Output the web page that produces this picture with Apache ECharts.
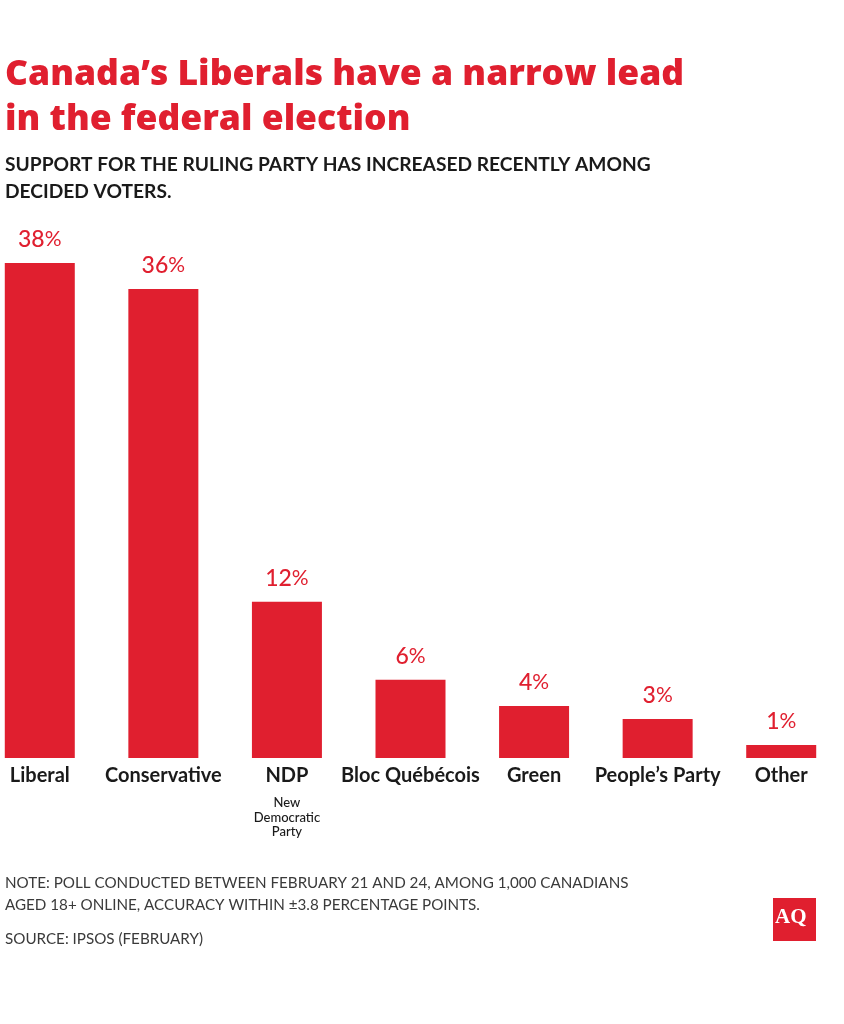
<!DOCTYPE html>
<html>
<head>
<meta charset="utf-8">
<script src="https://cdn.jsdelivr.net/npm/echarts@6/dist/echarts.min.js"></script>
<style>
  html, body { margin: 0; padding: 0; background: #fff; }
  #chart { width: 844px; height: 1024px; }
</style>
</head>
<body>
<div id="chart"></div>
<script>
const parties = ["Liberal", "Conservative", "NDP", "Bloc Québécois", "Green", "People’s Party", "Other"];
const support = [38, 36, 12, 6, 4, 3, 1];
const partyNotes = { NDP: "New\nDemocratic\nParty" };

const RED = "#e01f2f";
const chart = echarts.init(document.getElementById("chart"), null, { renderer: "canvas" });

chart.setOption({
  backgroundColor: "#ffffff",
  animation: false,
  title: [
    {
      text: "Canada’s Liberals have a narrow lead\nin the federal election",
      left: 0,
      top: 47,
      textStyle: {
        color: RED,
        fontFamily: "Open Sans",
        fontWeight: 800,
        fontSize: 35.5,
        lineHeight: 45,
      },
    },
    {
      text: "SUPPORT FOR THE RULING PARTY HAS INCREASED RECENTLY AMONG\nDECIDED VOTERS.",
      left: 0,
      top: 146,
      textStyle: {
        color: "#1a1a1a",
        fontFamily: "Lato",
        fontWeight: 700,
        fontSize: 19.2,
        lineHeight: 27,
      },
    },
    {
      text: "NOTE: POLL CONDUCTED BETWEEN FEBRUARY 21 AND 24, AMONG 1,000 CANADIANS\nAGED 18+ ONLINE, ACCURACY WITHIN ±3.8 PERCENTAGE POINTS.",
      left: 0,
      top: 867,
      textStyle: {
        color: "#3a3a3a",
        fontFamily: "Lato",
        fontWeight: 400,
        fontSize: 15.2,
        lineHeight: 22,
      },
    },
    {
      text: "SOURCE: IPSOS (FEBRUARY)",
      left: 0,
      top: 923,
      textStyle: {
        color: "#3a3a3a",
        fontFamily: "Lato",
        fontWeight: 400,
        fontSize: 15.2,
        lineHeight: 22,
      },
    },
  ],
  graphic: [
    {
      type: "rect",
      left: 773,
      top: 898,
      shape: { width: 43, height: 43 },
      style: { fill: RED },
    },
    {
      type: "text",
      left: 775,
      top: 907,
      style: {
        text: "AQ",
        fill: "#ffffff",
        font: "bold 21px 'Liberation Serif', serif",
      },
    },
  ],
  grid: {
    left: -22,
    width: 865,
    top: 237,
    bottom: 266,
    outerBoundsMode: "none",
    containLabel: false,
  },
  xAxis: {
    type: "category",
    data: parties,
    axisLine: { show: false },
    axisTick: { show: false },
    axisLabel: {
      margin: -2,
      interval: 0,
      hideOverlap: false,
      formatter: (value) => {
        if (partyNotes[value]) {
          return `{name|${value}}\n{note|${partyNotes[value]}}`;
        }
        return `{name|${value}}`;
      },
      rich: {
        name: {
          color: "#1a1a1a",
          fontFamily: "Lato",
          fontWeight: 700,
          fontSize: 20,
          lineHeight: 40,
        },
        note: {
          color: "#1a1a1a",
          fontFamily: "Lato",
          fontWeight: 500,
          fontSize: 13,
          lineHeight: 14.5,
        },
      },
    },
  },
  yAxis: {
    type: "value",
    min: 0,
    max: 40,
    show: false,
    splitLine: { show: false },
  },
  series: [
    {
      type: "bar",
      data: support,
      barWidth: 70,
      itemStyle: { color: RED },
      label: {
        show: true,
        position: "top",
        distance: 12,
        formatter: (p) => `{num|${p.value}}{pct|%}`,
        rich: {
          num: {
            color: RED,
            fontFamily: "Lato",
            fontWeight: 500,
            fontSize: 23,
          },
          pct: {
            color: RED,
            fontFamily: "Lato",
            fontWeight: 400,
            fontSize: 21,
          },
        },
      },
    },
  ],
});
</script>
</body>
</html>
